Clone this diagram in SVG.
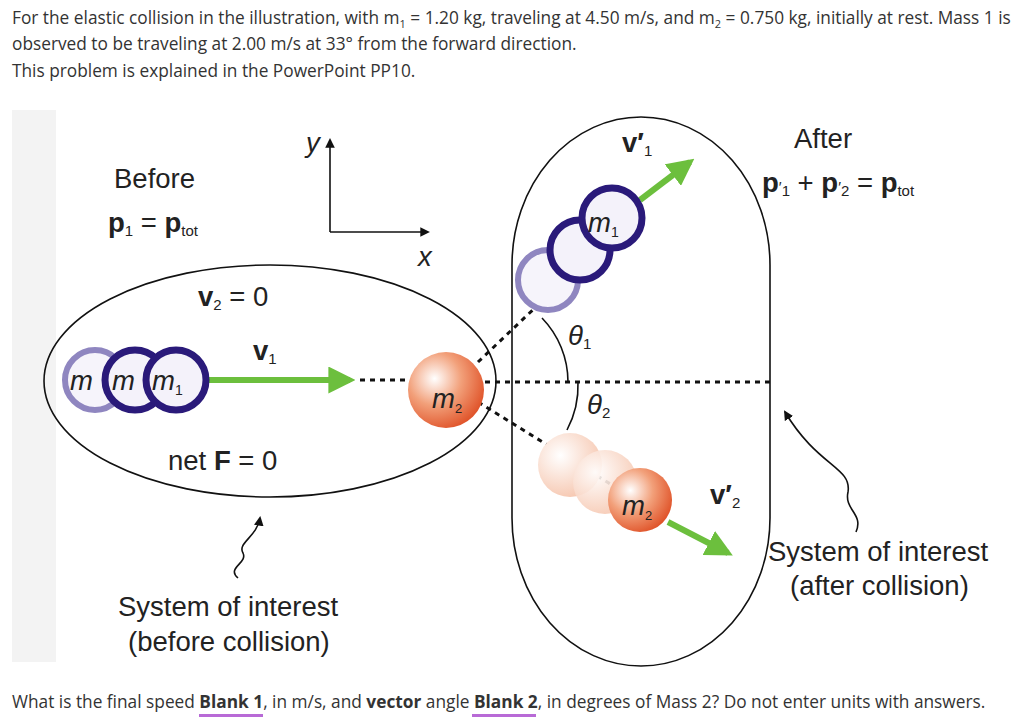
<svg xmlns="http://www.w3.org/2000/svg" width="1024" height="724" viewBox="0 0 1024 724">
<style>
.q{font-family:"Open Sans","Liberation Sans",sans-serif;font-size:17.3px;fill:#333}
.d{font-family:"Liberation Sans",Arial,sans-serif;font-size:27.5px;fill:#222}
.b{font-weight:bold}
.i{font-style:italic}
.ln{fill:none;stroke:#111;stroke-width:1.6}
.dash{fill:none;stroke:#111;stroke-width:3;stroke-dasharray:5 5}
.g{stroke:#6cbf3d;stroke-width:6;fill:none}
.ring{fill:#f4f2fa;stroke:#2a1a7a;stroke-width:7}
.ghost{fill:#f6f4fb;stroke:#8f86c0;stroke-width:6}
</style>
<defs>
<marker id="ga" viewBox="0 0 10 10" refX="8" refY="5" markerWidth="4.5" markerHeight="4.5" orient="auto"><path d="M0,0L10,5L0,10Z" fill="#6cbf3d"/></marker>
<marker id="ka" viewBox="0 0 10 10" refX="8" refY="5" markerWidth="6" markerHeight="6" orient="auto"><path d="M0,0L10,5L0,10Z" fill="#111"/></marker>
<radialGradient id="og" cx="0.35" cy="0.35" r="0.7"><stop offset="0" stop-color="#fff"/><stop offset="0.5" stop-color="#f2a07a"/><stop offset="1" stop-color="#e0542a"/></radialGradient>
<radialGradient id="og2" cx="0.35" cy="0.35" r="0.7"><stop offset="0" stop-color="#fff"/><stop offset="1" stop-color="#f6c7b0"/></radialGradient>
</defs>
<rect width="1024" height="724" fill="#fff"/>
<text class="q" x="12" y="24">For the elastic collision in the illustration, with m<tspan font-size="11" dy="4">1</tspan><tspan dy="-4"> = 1.20 kg, traveling at 4.50 m/s, and m</tspan><tspan font-size="11" dy="4">2</tspan><tspan dy="-4"> = 0.750 kg, initially at rest. Mass 1 is</tspan></text>
<text class="q" x="12" y="50">observed to be traveling at 2.00 m/s at 33° from the forward direction.</text>
<text class="q" x="12" y="77">This problem is explained in the PowerPoint PP10.</text>
<rect x="12" y="110" width="44" height="552" fill="#f3f3f3"/>
<g id="systems">
<ellipse class="ln" cx="270" cy="381" rx="226" ry="116"/>
<path class="ln" d="M512,265 A129,148 0 0 1 770,265 L770,518 A129,148 0 0 1 512,518 Z"/>
</g>
<g id="axes">
<path class="ln" d="M330,232V140" marker-end="url(#ka)"/>
<path class="ln" d="M330,232H428" marker-end="url(#ka)"/>
<text class="d i" x="306" y="152" font-size="23">y</text>
<text class="d i" x="418" y="266" font-size="23">x</text>
</g>
<g id="connectors">
<path class="g" d="M205,380H350" marker-end="url(#ga)"/>
<path class="dash" d="M360,380H410"/>
<path class="dash" d="M485,382H770"/>
<path class="dash" d="M478,362L580,265"/>
<path class="dash" d="M478,402L620,490"/>
<path class="g" d="M640,200L690,162" marker-end="url(#ga)"/>
<path class="g" d="M668,522L728,553" marker-end="url(#ga)"/>
<path class="ln" d="M542,318 A92,92 0 0 1 568,382"/>
<path class="ln" d="M578,382 A95,95 0 0 1 567,430"/>
<path class="ln" d="M238,578c-12,-10 10,-15 5,-25c-6,-10 14,-16 17,-35" marker-end="url(#ka)"/>
<path class="ln" d="M856,532c8,-18 -12,-22 -8,-40c4,-25 -30,-25 -63,-80" marker-end="url(#ka)"/>
</g>
<g id="m1-before">
<circle class="ghost" cx="95" cy="380" r="30"/>
<circle class="ring" cx="135" cy="380" r="30"/>
<circle class="ring" cx="176" cy="380" r="30"/>
<text class="d i" x="70" y="390" font-size="22" fill="#888">m</text>
<text class="d i" x="112" y="390" font-size="22">m</text>
<text class="d i" x="152" y="390" font-size="22">m<tspan font-size="14" dy="5" font-style="normal">1</tspan></text>
</g>
<g id="m2-before">
<circle cx="446" cy="390" r="38" fill="url(#og)"/>
<text class="d i" x="432" y="408" font-size="20">m<tspan font-size="13" dy="5" font-style="normal">2</tspan></text>
</g>
<g id="m1-after">
<circle class="ghost" cx="548" cy="280" r="30"/>
<circle class="ring" cx="580" cy="250" r="30" stroke-width="6"/>
<circle class="ring" cx="612" cy="218" r="30"/>
<text class="d i" x="588" y="232" font-size="22">m<tspan font-size="14" dy="5" font-style="normal">1</tspan></text>
</g>
<g id="m2-after">
<circle cx="570" cy="465" r="32" fill="url(#og2)"/>
<circle cx="605" cy="482" r="32" fill="url(#og2)" opacity="0.9"/>
<circle cx="640" cy="500" r="32" fill="url(#og)"/>
<text class="d i" x="622" y="515" font-size="20">m<tspan font-size="13" dy="5" font-style="normal">2</tspan></text>
</g>
<g id="labels">
<text class="d" x="114" y="188">Before</text>
<text class="d" x="108" y="232"><tspan class="b">p</tspan><tspan font-size="15" dy="4">1</tspan><tspan dy="-4"> = </tspan><tspan class="b">p</tspan><tspan font-size="15" dy="4">tot</tspan></text>
<text class="d" x="198" y="306"><tspan class="b">v</tspan><tspan font-size="15" dy="4">2</tspan><tspan dy="-4"> = 0</tspan></text>
<text class="d b" x="253" y="360">v<tspan font-size="15" dy="4" font-weight="normal">1</tspan></text>
<text class="d" x="168" y="470">net <tspan class="b">F</tspan> = 0</text>
<text class="d" x="118" y="616">System of interest</text>
<text class="d" x="128" y="651">(before collision)</text>
<text class="d b" x="622" y="152">v′<tspan font-size="15" dy="4" font-weight="normal">1</tspan></text>
<text class="d b" x="710" y="504">v′<tspan font-size="15" dy="4" font-weight="normal">2</tspan></text>
<text class="d i" x="568" y="345">θ<tspan font-size="15" dy="4" font-style="normal">1</tspan></text>
<text class="d i" x="587" y="414">θ<tspan font-size="15" dy="4" font-style="normal">2</tspan></text>
<text class="d" x="794" y="148">After</text>
<text class="d" x="762" y="192"><tspan class="b">p</tspan><tspan font-size="15">′</tspan><tspan font-size="15" dy="4">1</tspan><tspan dy="-4"> + </tspan><tspan class="b">p</tspan><tspan font-size="15">′</tspan><tspan font-size="15" dy="4">2</tspan><tspan dy="-4"> = </tspan><tspan class="b">p</tspan><tspan font-size="15" dy="4">tot</tspan></text>
<text class="d" x="768" y="561">System of interest</text>
<text class="d" x="790" y="595">(after collision)</text>
</g>
<text class="q" x="12" y="708">What is the final speed <tspan font-weight="bold">Blank 1</tspan>, in m/s, and <tspan font-weight="bold">vector</tspan> angle <tspan font-weight="bold">Blank 2</tspan>, in degrees of Mass 2? Do not enter units with answers.</text>
<rect x="199" y="714" width="64" height="3" fill="#b86ad6"/>
<rect x="472" y="714" width="64" height="3" fill="#b86ad6"/>
</svg>
